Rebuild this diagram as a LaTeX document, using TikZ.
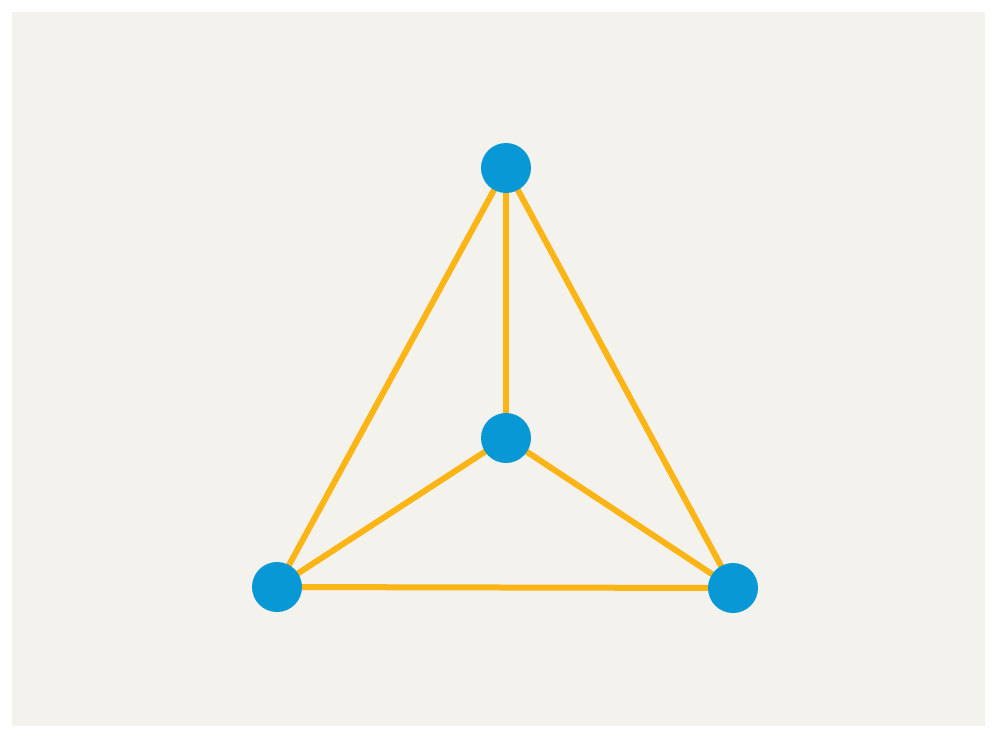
\documentclass[tikz,border=0pt]{standalone}
\usepackage{xcolor}
\usetikzlibrary{backgrounds}

\definecolor{sfondo}{HTML}{F3F2EC}
\definecolor{spigolo}{HTML}{FDB515}
\definecolor{vertice}{HTML}{0898D5}

\tikzset{
  vert/.style={circle, fill=vertice, inner sep=0pt, minimum size=50pt},
  edge/.style={spigolo, line width=6pt}
}

\begin{document}
\begin{tikzpicture}[x=1pt,y=-1pt]
        \useasboundingbox (0,0) rectangle (1000,736); % dimensioni della figura
        \node[vert] (top) at (506,168) {}; % vertice in alto
        \node[vert] (mid) at (506,438) {}; % vertice centrale
        \node[vert] (left) at (277,587) {}; % vertice in basso a sinistra
        \node[vert] (right) at (733,588) {}; % vertice in basso a destra
        \begin{scope}[on background layer]
        \fill[white] (0,0) rectangle (1000,736);
        \fill[sfondo] (12,12) rectangle (985,726); % sfondo chiaro
        \draw[edge] (top.center) -- (left.center); % spigoli esterni
        \draw[edge] (top.center) -- (right.center);
        \draw[edge] (left.center) -- (right.center);
        \draw[edge] (top.center) -- (mid.center); % spigoli interni
        \draw[edge] (mid.center) -- (left.center);
        \draw[edge] (mid.center) -- (right.center);
        \end{scope}
    \end{tikzpicture}
\end{document}
